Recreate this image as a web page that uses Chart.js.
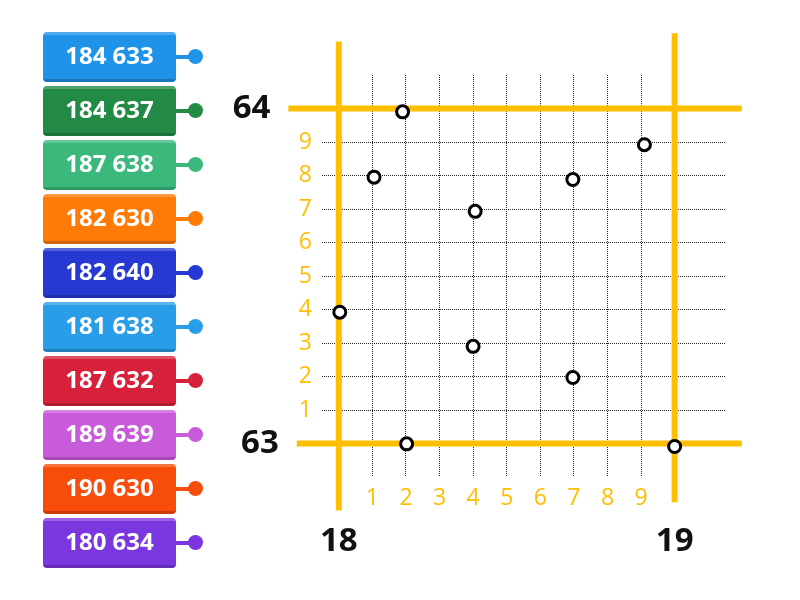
<!DOCTYPE html>
<html>
<head>
<meta charset="utf-8">
<script src="https://cdn.jsdelivr.net/npm/chart.js@4.4.1/dist/chart.umd.min.js"></script>
<style>
    body { margin: 0; background: #fff; }
    #wrap { position: relative; width: 800px; height: 600px; }
    #chart { position: absolute; left: 0; top: 0; }
    .tag {
        position: absolute;
        left: 43px;
        width: 133px;
        height: 50px;
        border-radius: 4px;
        color: #fff;
        font: bold 24px "Open Sans", sans-serif;
        text-align: center;
        box-sizing: border-box;
        border-top: 3px solid rgba(255, 255, 255, 0.22);
        border-bottom: 3px solid rgba(0, 0, 0, 0.18);
        line-height: 40px;
    }
    .stem {
        position: absolute;
        left: 176px;
        width: 16px;
        height: 4px;
    }
    .dot {
        position: absolute;
        left: 188px;
        width: 15px;
        height: 15px;
        border-radius: 50%;
    }
</style>
</head>
<body>
<div id="wrap">
    <canvas id="chart" width="800" height="600"></canvas>
</div>
<script>
// grid ticks and frame
const tickValues = [1, 2, 3, 4, 5, 6, 7, 8, 9];
const tickLabels = ['1', '2', '3', '4', '5', '6', '7', '8', '9'];
const frameX = [0, 10];
const frameY = [0, 10];
const frameLabelsX = ['18', '19'];
const frameLabelsY = ['63', '64'];

// marker positions in grid units
const pointsX = [1.9, 1.05, 4.06, 6.97, 9.1, 0.03, 4.0, 6.97, 2.02, 10.0];
const pointsY = [9.9, 7.95, 6.93, 7.88, 8.92, 3.92, 2.9, 1.97, -0.01, -0.09];

// answer tags on the left
const tagLabels = ['184 633', '184 637', '187 638', '182 630', '182 640',
                   '181 638', '187 632', '189 639', '190 630', '180 634'];
const tagColors = ['#1f93e8', '#238a46', '#3bb97c', '#ff7b05', '#2639d2',
                   '#2a9de9', '#d7213a', '#c85bd9', '#f84c0a', '#7a36df'];

const ORANGE = '#ffbf00';

// how far each frame line runs (grid units)
const frameExtentX = [[-2, 12], [-1.75, 12.25]];
const frameExtentY = [[-1.25, 12], [-1.5, 12]];

const wrap = document.getElementById('wrap');
tagLabels.forEach((label, i) => {
    const top = 32 + i * 54;
    const tag = document.createElement('div');
    tag.className = 'tag';
    tag.style.top = top + 'px';
    tag.style.background = tagColors[i];
    tag.textContent = label;
    wrap.appendChild(tag);

    const stem = document.createElement('div');
    stem.className = 'stem';
    stem.style.top = (top + 23) + 'px';
    stem.style.background = tagColors[i];
    wrap.appendChild(stem);

    const dot = document.createElement('div');
    dot.className = 'dot';
    dot.style.top = (top + 17) + 'px';
    dot.style.background = tagColors[i];
    wrap.appendChild(dot);
});

const points = pointsX.map((x, i) => ({ x, y: pointsY[i] }));

const frameSets = [];
frameX.forEach((x, i) => {
    frameSets.push({
        data: [{ x, y: frameExtentX[i][0] }, { x, y: frameExtentX[i][1] }],
        showLine: true, borderColor: ORANGE, borderWidth: 6,
        pointRadius: 0, clip: false, borderCapStyle: 'butt'
    });
});
frameY.forEach((y, i) => {
    frameSets.push({
        data: [{ x: frameExtentY[i][0], y }, { x: frameExtentY[i][1], y }],
        showLine: true, borderColor: ORANGE, borderWidth: 6,
        pointRadius: 0, clip: false, borderCapStyle: 'butt'
    });
});

const frameLabelPlugin = {
    id: 'frameLabels',
    afterDatasetsDraw(chart) {
        const { ctx, scales: { x, y } } = chart;
        ctx.save();
        ctx.fillStyle = '#111';
        ctx.font = 'bold 33px "Open Sans", sans-serif';
        ctx.textBaseline = 'middle';
        ctx.textAlign = 'center';
        frameX.forEach((v, i) => {
            ctx.fillText(frameLabelsX[i], x.getPixelForValue(v), y.getPixelForValue(-2.92));
        });
        ctx.textAlign = 'right';
        frameY.forEach((v, i) => {
            ctx.fillText(frameLabelsY[i], x.getPixelForValue(frameExtentY[i][0]) - 18, y.getPixelForValue(v));
        });
        ctx.restore();
    }
};

const tickFont = { family: '"Open Sans", sans-serif', size: 23 };
const setTicks = (scale) => {
    scale.ticks = tickValues.map(v => ({ value: v }));
};

new Chart(document.getElementById('chart'), {
    type: 'scatter',
    data: {
        datasets: [{
            data: points,
            pointRadius: 6,
            pointBorderWidth: 3,
            pointBackgroundColor: '#fff',
            pointBorderColor: '#000',
            clip: false
        }, ...frameSets]
    },
    options: {
        responsive: false,
        animation: false,
        layout: { padding: { left: 292, right: 75, top: 75, bottom: 83 } },
        plugins: { legend: { display: false }, tooltip: { enabled: false } },
        scales: {
            x: {
                type: 'linear',
                min: -0.5,
                max: 11.5,
                afterBuildTicks: setTicks,
                afterFit: (scale) => { scale.height = 40; },
                grid: { color: '#222', lineWidth: 1, drawTicks: false },
                border: { display: false, dash: [1, 1] },
                ticks: {
                    padding: 8,
                    color: ORANGE,
                    font: tickFont,
                    callback: (v) => tickLabels[tickValues.indexOf(v)]
                }
            },
            y: {
                type: 'linear',
                min: -1,
                max: 11,
                afterBuildTicks: setTicks,
                afterFit: (scale) => { scale.width = 30; },
                grid: { color: '#222', lineWidth: 1, drawTicks: false },
                border: { display: false, dash: [1, 1] },
                ticks: {
                    padding: 10,
                    color: ORANGE,
                    font: tickFont,
                    callback: (v) => tickLabels[tickValues.indexOf(v)]
                }
            }
        }
    },
    plugins: [frameLabelPlugin]
});
</script>
</body>
</html>
